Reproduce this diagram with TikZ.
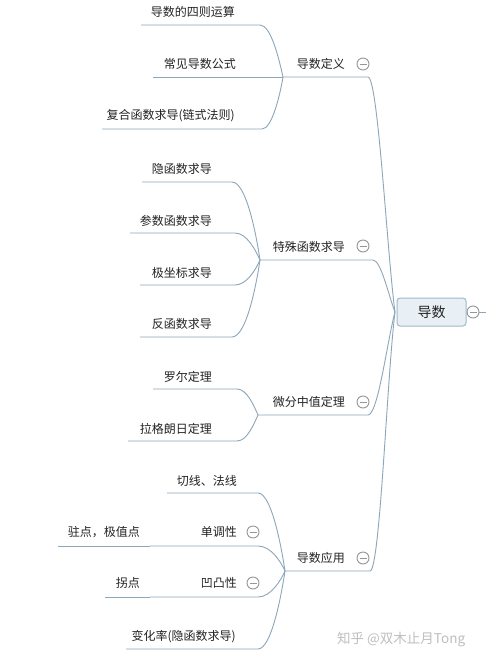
\documentclass[tikz,border=0pt]{standalone}
\usepackage{fontspec}
\setmainfont{Noto Sans CJK SC}
\definecolor{lineclr}{RGB}{140,166,186}
\definecolor{txtclr}{RGB}{35,35,35}
\definecolor{iconclr}{RGB}{150,150,150}
\definecolor{rootfill}{RGB}{232,240,246}
\definecolor{rootdraw}{RGB}{160,184,202}
\definecolor{wmclr}{RGB}{190,190,190}
\tikzset{
  conn/.style={draw=lineclr, line width=0.9pt},
  txt/.style={inner sep=0pt, anchor=east, text=txtclr, font=\fontsize{12}{12}\selectfont},
  rootbox/.style={draw=rootdraw, fill=rootfill, line width=1pt, rounded corners=3pt,
    minimum width=69pt, minimum height=28pt, inner sep=0pt, text=txtclr,
    font=\fontsize{14}{14}\selectfont},
  collapse/.style={circle, draw=iconclr, line width=0.9pt, minimum size=12pt, inner sep=0pt,
    path picture={\draw[iconclr, line width=0.9pt]
      ([xshift=2.5pt]path picture bounding box.west) -- ([xshift=-2.5pt]path picture bounding box.east);}},
}
\begin{document}
\begin{tikzpicture}[x=1pt, y=-1pt]
\useasboundingbox (0,0) rectangle (486,662);
\fill[white] (0,0) rectangle (486,662);

% root
\node[rootbox] (root) at (431.5,312) {导数};
\node[collapse] (rootcol) at (473,312) {};
\coordinate (rootout) at (486,312);
\coordinate (R) at (395,312);
\draw[conn] (root.east) -- (rootcol.west);
\draw[conn] (rootcol.east) -- (rootout);

% level 1
\node[txt] (n1) at (345,64) {导数定义};
\node[collapse] (n1c) at (363,64) {};
\coordinate (B1) at (283,77); \coordinate (E1) at (368,77);
\node[txt] (n2) at (345,247) {特殊函数求导};
\node[collapse] (n2c) at (363,246) {};
\coordinate (B2) at (260,260); \coordinate (E2) at (373,260);
\node[txt] (n3) at (345,402) {微分中值定理};
\node[collapse] (n3c) at (363,402) {};
\coordinate (B3) at (258,415); \coordinate (E3) at (368,415);
\node[txt] (n4) at (345,558) {导数应用};
\node[collapse] (n4c) at (363,558) {};
\coordinate (B4) at (285,571); \coordinate (E4) at (370,571);

\draw[conn] (B1) -- (E1) .. controls +(10,0) and +(-8,-60) .. (R);
\draw[conn] (B2) -- (E2) .. controls +(8,0) and +(-6,-15) .. (R);
\draw[conn] (B3) -- (E3) .. controls +(10,0) and +(-8,30) .. (R);
\draw[conn] (B4) -- (E4) .. controls +(10,0) and +(-8,65) .. (R);

% children of 导数定义
\node[txt] (a1) at (235,12) {导数的四则运算};
\coordinate (a1l) at (141,25); \coordinate (a1e) at (260,25);
\node[txt] (a2) at (236,64) {常见导数公式};
\coordinate (a2l) at (153,77);
\node[txt] (a3) at (235,116) {复合函数求导(链式法则)};
\coordinate (a3l) at (102,129); \coordinate (a3e) at (262,129);
\draw[conn] (a1l) -- (a1e) .. controls +(11,0) and +(-4,-18) .. (B1);
\draw[conn] (a2l) -- (B1);
\draw[conn] (a3l) -- (a3e) .. controls +(10,0) and +(-3,18) .. (B1);

% children of 特殊函数求导
\node[txt] (b1) at (212,169) {隐函数求导};
\coordinate (b1l) at (142,182); \coordinate (b1e) at (232,182);
\node[txt] (b2) at (212,221) {参数函数求导};
\coordinate (b2l) at (130,233); \coordinate (b2e) at (235,233);
\node[txt] (b3) at (212,273) {极坐标求导};
\coordinate (b3l) at (140,285); \coordinate (b3e) at (235,285);
\node[txt] (b4) at (212,324) {反函数求导};
\coordinate (b4l) at (140,337); \coordinate (b4e) at (232,337);
\draw[conn] (b1l) -- (b1e) .. controls +(14,0) and +(-4,-27) .. (B2);
\draw[conn] (b2l) -- (b2e) .. controls +(12,0) and +(-4,-9) .. (B2);
\draw[conn] (b3l) -- (b3e) .. controls +(12,0) and +(-4,9) .. (B2);
\draw[conn] (b4l) -- (b4e) .. controls +(14,0) and +(-4,27) .. (B2);

% children of 微分中值定理
\node[txt] (c1) at (212,377) {罗尔定理};
\coordinate (c1l) at (153,389); \coordinate (c1e) at (237,389);
\node[txt] (c2) at (212,429) {拉格朗日定理};
\coordinate (c2l) at (128,441); \coordinate (c2e) at (237,441);
\draw[conn] (c1l) -- (c1e) .. controls +(10,0) and +(-4,-9) .. (B3);
\draw[conn] (c2l) -- (c2e) .. controls +(10,0) and +(-4,9) .. (B3);

% children of 导数应用
\node[txt] (d1) at (237,481) {切线、法线};
\coordinate (d1l) at (167,493); \coordinate (d1e) at (258,493);
\node[txt] (d2) at (237,532) {单调性};
\node[collapse] (d2c) at (253,532) {};
\coordinate (d2l) at (150,546); \coordinate (d2e) at (258,546);
\node[txt] (e1) at (140,532) {驻点，极值点};
\coordinate (e1l) at (58,546);
\node[txt] (d3) at (237,583) {凹凸性};
\node[collapse] (d3c) at (253,583) {};
\coordinate (d3l) at (150,597); \coordinate (d3e) at (258,597);
\node[txt] (e2) at (140,583) {拐点};
\coordinate (e2l) at (105,597);
\node[txt] (d4) at (236,637) {变化率(隐函数求导)};
\coordinate (d4l) at (126,649); \coordinate (d4e) at (258,649);
\draw[conn] (d1l) -- (d1e) .. controls +(13,0) and +(-4,-27) .. (B4);
\draw[conn] (d2l) -- (d2e) .. controls +(13,0) and +(-4,-9) .. (B4);
\draw[conn] (d3l) -- (d3e) .. controls +(13,0) and +(-4,9) .. (B4);
\draw[conn] (d4l) -- (d4e) .. controls +(13,0) and +(-4,27) .. (B4);
\draw[conn] (e1l) -- (d2l);
\draw[conn] (e2l) -- (d3l);

% watermark
\node[inner sep=0pt, anchor=west, text=wmclr, font=\fontsize{13.5}{13.5}\selectfont] (wm) at (337,640) {知乎 @双木止月Tong};
\end{tikzpicture}
\end{document}
